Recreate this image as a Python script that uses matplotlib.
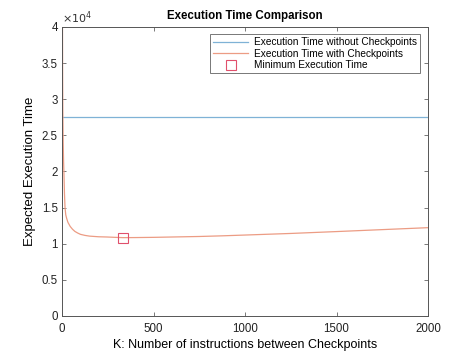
import numpy as np
import matplotlib
matplotlib.use('Agg')
import matplotlib.pyplot as plt
from matplotlib.ticker import FuncFormatter

# values
k_vals = [1, 2, 3, 4, 6, 8, 10, 13, 16, 20, 25, 32, 44, 57, 70, 85, 100, 125, 150, 200,
          244, 290, 332, 400, 500, 625, 750, 875, 1000, 1250, 1500, 1750, 2000]
t_with = [80000, 41000, 33000, 28500, 24000, 21500, 19800, 16900, 15000, 14000, 13500,
          12950, 12400, 12000, 11700, 11480, 11300, 11150, 11050, 10960,
          10930, 10880, 10840, 10850, 10880, 10940, 11000, 11090, 11200,
          11420, 11680, 11950, 12220]
t_without = 27500
k_min = 332
t_min = 10840

plt.rcParams['font.family'] = ['Liberation Sans', 'DejaVu Sans']

fig = plt.figure(figsize=(4.74, 3.55), dpi=100)
ax = fig.add_axes([0.131, 0.110, 0.772, 0.814])

ax.axhline(t_without, color='#7fb2d6', lw=0.9, label='Execution Time without Checkpoints')
ax.plot(k_vals, t_with, color='#ec9c84', lw=0.9, label='Execution Time with Checkpoints')
ax.plot([k_min], [t_min], 's', ms=6.5, mfc='none', mec='#e0506c', mew=0.8,
        label='Minimum Execution Time')

ax.set_xlim(0, 2000)
ax.set_ylim(0, 40000)
ax.set_xticks([0, 500, 1000, 1500, 2000])
ax.set_yticks(np.arange(0, 40001, 5000))
ax.yaxis.set_major_formatter(FuncFormatter(lambda v, p: '%g' % (v / 1e4)))
ax.tick_params(direction='in', top=True, right=True, labelsize=8.3, length=3,
               width=0.5, color='#444444', labelcolor='#222222', pad=3)
ax.tick_params(axis='x', pad=5)
for s in ax.spines.values():
    s.set_linewidth(0.7)
    s.set_color('#555555')

ax.text(0.0, 1.005, r'$\times10^{4}$', transform=ax.transAxes, fontsize=8,
        color='#333333', ha='left', va='bottom')

ax.set_title('Execution Time Comparison', fontsize=8.3, fontweight='bold', pad=6)
ax.set_xlabel('K: Number of instructions between Checkpoints', fontsize=9, labelpad=3)
ax.set_ylabel('Expected Execution Time', fontsize=9.5, labelpad=4)

leg = ax.legend(loc='upper right', bbox_to_anchor=(0.978, 0.975), fontsize=7.3,
                handlelength=3.4, borderpad=0.3, labelspacing=0.15, fancybox=False,
                handletextpad=0.6, borderaxespad=0)
leg.get_frame().set_edgecolor('#555555')
leg.get_frame().set_linewidth(0.7)

fig.savefig('out.png', dpi=100)
